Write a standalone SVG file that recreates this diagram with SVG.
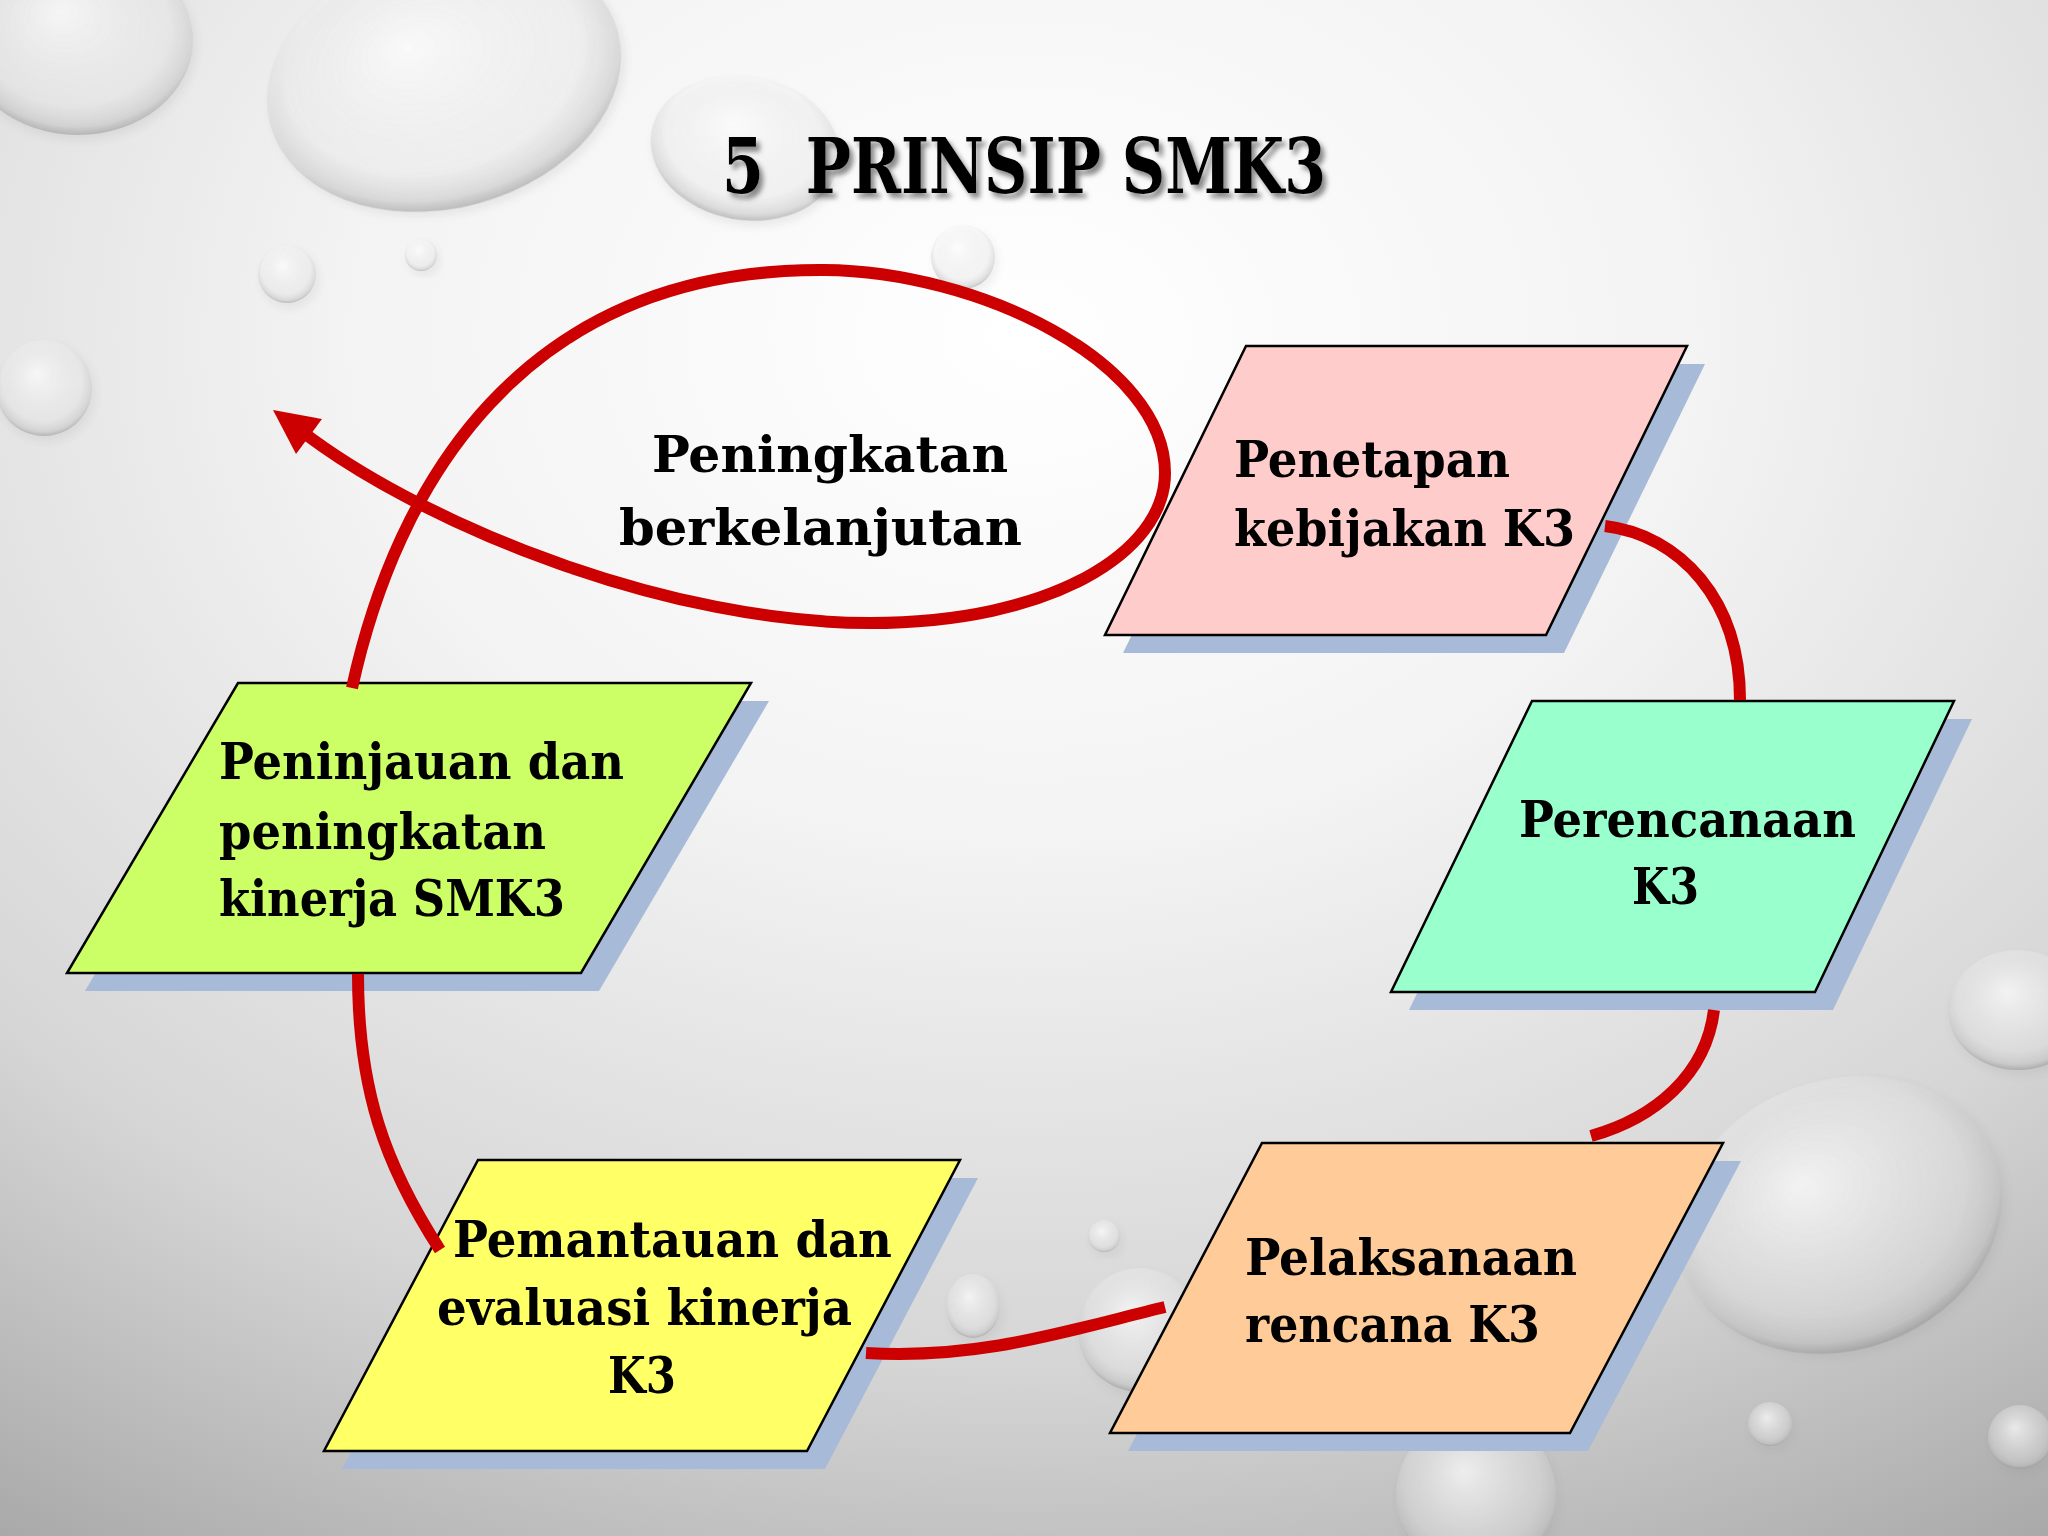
<svg xmlns="http://www.w3.org/2000/svg" width="2048" height="1536" viewBox="0 0 2048 1536">
<defs>
<radialGradient id="bg" cx="50%" cy="22%" r="95%">
<stop offset="0" stop-color="#ffffff"/>
<stop offset="0.35" stop-color="#f3f3f3"/>
<stop offset="0.7" stop-color="#d6d6d6"/>
<stop offset="1" stop-color="#a5a5a5"/>
</radialGradient>
<radialGradient id="drop" cx="50%" cy="45%" r="55%" fx="42%" fy="35%">
<stop offset="0" stop-color="#ffffff" stop-opacity="0.85"/>
<stop offset="0.75" stop-color="#f2f2f2" stop-opacity="0.4"/>
<stop offset="0.93" stop-color="#c4c4c4" stop-opacity="0.55"/>
<stop offset="1" stop-color="#8f8f8f" stop-opacity="0.6"/>
</radialGradient>
<filter id="tshadow" x="-5%" y="-20%" width="110%" height="150%">
<feDropShadow dx="4" dy="5" stdDeviation="2.5" flood-color="#666" flood-opacity="0.75"/>
</filter>
<filter id="dshadow" x="-20%" y="-20%" width="140%" height="140%">
<feDropShadow dx="3" dy="5" stdDeviation="4" flood-color="#888" flood-opacity="0.3"/>
</filter>
</defs>
<style>
.title{font-family:'DejaVu Serif Condensed','DejaVu Serif','Liberation Serif',serif;font-weight:bold;font-size:76px;fill:#000;white-space:pre}
.lbl{font-family:'DejaVu Serif Condensed','DejaVu Serif','Liberation Serif',serif;font-weight:bold;font-size:50px;fill:#000}
.shape{stroke:#000;stroke-width:2.5}
.shadow{fill:#a7bbd8}
.conn{fill:none;stroke:#cc0000;stroke-width:12;stroke-linecap:butt}
.drop{fill:url(#drop);filter:url(#dshadow)}
</style>
<rect x="0" y="0" width="2048" height="1536" fill="url(#bg)"/>
<g id="droplets" opacity="0.85">
<ellipse class="drop" cx="78" cy="40" rx="115" ry="95"/>
<ellipse class="drop" cx="444" cy="78" rx="180" ry="130" transform="rotate(-15 444 78)"/>
<ellipse class="drop" cx="745" cy="148" rx="95" ry="72" transform="rotate(10 745 148)"/>
<circle class="drop" cx="287" cy="274" r="29"/>
<circle class="drop" cx="421" cy="255" r="16"/>
<circle class="drop" cx="963" cy="257" r="32"/>
<circle class="drop" cx="44" cy="388" r="48"/>
<ellipse class="drop" cx="2018" cy="1010" rx="70" ry="60"/>
<ellipse class="drop" cx="1840" cy="1215" rx="165" ry="135" transform="rotate(-20 1840 1215)"/>
<circle class="drop" cx="1770" cy="1424" r="22"/>
<circle class="drop" cx="1476" cy="1495" r="80"/>
<circle class="drop" cx="2020" cy="1437" r="32"/>
<circle class="drop" cx="1104" cy="1236" r="16"/>
<ellipse class="drop" cx="973" cy="1306" rx="27" ry="32"/>
<circle class="drop" cx="1140" cy="1330" r="62"/>
</g>
<g id="title">
<text class="title" x="722" y="193" textLength="604" lengthAdjust="spacingAndGlyphs" filter="url(#tshadow)" xml:space="preserve">5  PRINSIP SMK3</text>
</g>
<g id="node-penetapan">
<polygon class="shadow" points="1264,364 1705,364 1564,653 1123,653"/>
<polygon class="shape" fill="#ffcccc" points="1246,346 1687,346 1546,635 1105,635"/>
<text class="lbl" x="1234" y="477" textLength="276" lengthAdjust="spacingAndGlyphs">Penetapan</text>
<text class="lbl" x="1234" y="546" textLength="341" lengthAdjust="spacingAndGlyphs">kebijakan K3</text>
</g>
<g id="node-perencanaan">
<polygon class="shadow" points="1550,719 1972,719 1833,1010 1409,1010"/>
<polygon class="shape" fill="#99ffcc" points="1532,701 1954,701 1815,992 1391,992"/>
<text class="lbl" x="1519" y="837" textLength="337" lengthAdjust="spacingAndGlyphs">Perencanaan</text>
<text class="lbl" x="1632" y="904" textLength="67" lengthAdjust="spacingAndGlyphs">K3</text>
</g>
<g id="node-pelaksanaan">
<polygon class="shadow" points="1280,1161 1741,1161 1588,1451 1128,1451"/>
<polygon class="shape" fill="#ffcc99" points="1262,1143 1723,1143 1570,1433 1110,1433"/>
<text class="lbl" x="1245" y="1275" textLength="332" lengthAdjust="spacingAndGlyphs">Pelaksanaan</text>
<text class="lbl" x="1245" y="1342" textLength="295" lengthAdjust="spacingAndGlyphs">rencana K3</text>
</g>
<g id="node-pemantauan">
<polygon class="shadow" points="496,1178 978,1178 825,1469 342,1469"/>
<polygon class="shape" fill="#ffff66" points="478,1160 960,1160 807,1451 324,1451"/>
<text class="lbl" x="453" y="1257" textLength="439" lengthAdjust="spacingAndGlyphs">Pemantauan dan</text>
<text class="lbl" x="437" y="1325" textLength="415" lengthAdjust="spacingAndGlyphs">evaluasi kinerja</text>
<text class="lbl" x="608" y="1393" textLength="68" lengthAdjust="spacingAndGlyphs">K3</text>
</g>
<g id="node-peninjauan">
<polygon class="shadow" points="256,701 769,701 599,991 85,991"/>
<polygon class="shape" fill="#ccff66" points="238,683 751,683 581,973 67,973"/>
<text class="lbl" x="219" y="779" textLength="405" lengthAdjust="spacingAndGlyphs">Peninjauan dan</text>
<text class="lbl" x="219" y="849" textLength="327" lengthAdjust="spacingAndGlyphs">peningkatan</text>
<text class="lbl" x="219" y="916" textLength="346" lengthAdjust="spacingAndGlyphs">kinerja SMK3</text>
</g>
<g id="label-peningkatan">
<text class="lbl" x="652" y="472" textLength="356" lengthAdjust="spacingAndGlyphs">Peningkatan</text>
<text class="lbl" x="619" y="545" textLength="403" lengthAdjust="spacingAndGlyphs">berkelanjutan</text>
</g>
<g id="connectors">
<path class="conn" d="M1605,526 C1680,535 1740,600 1740,700"/>
<path class="conn" d="M1714,1010 C1706,1075 1655,1118 1591,1136"/>
<path class="conn" d="M1165,1307 C1070,1330 980,1360 866,1353"/>
<path class="conn" d="M440,1250 C385,1165 358,1090 358,974"/>
<path class="conn" d="M352,688 C396,487 520,270 820,270 C980,270 1165,363 1165,473 C1165,553 1050,623 870,623 C670,623 432,528 308,436"/>
<polygon fill="#cc0000" points="273,410 322,419 296,454"/>
</g>
</svg>
